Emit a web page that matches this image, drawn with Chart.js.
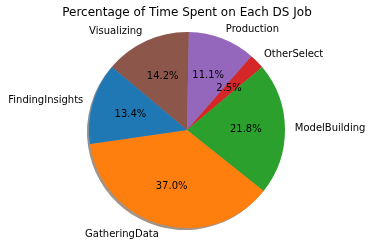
<!DOCTYPE html>
<html>
<head>
<meta charset="utf-8">
<script src="https://cdn.jsdelivr.net/npm/chart.js@4.4.1/dist/chart.umd.min.js"></script>
<style>
  html, body { margin: 0; padding: 0; background: #fff; }
  canvas { display: block; }
</style>
</head>
<body>
<canvas id="jobChart" width="372" height="251"></canvas>
<script>
// datos del gráfico (orden de matplotlib, sentido antihorario)
const jobLabels = ['FindingInsights', 'GatheringData', 'ModelBuilding', 'OtherSelect', 'Production', 'Visualizing'];
const jobShares = [13.4, 37.0, 21.8, 2.5, 11.1, 14.2];
const jobColors = ['#1f77b4', '#ff7f0e', '#2ca02c', '#d62728', '#9467bd', '#8c564b'];
const chartTitle = 'Percentage of Time Spent on Each DS Job';

// Chart.js dibuja en sentido horario: invertimos para imitar el antihorario
const labelsRev = jobLabels.slice().reverse();
const sharesRev = jobShares.slice().reverse();
const colorsRev = jobColors.slice().reverse();

const FONT = "'DejaVu Sans', sans-serif";

function darker(hex, f) {
    const n = parseInt(hex.slice(1), 16);
    const r = Math.round(((n >> 16) & 255) * f);
    const g = Math.round(((n >> 8) & 255) * f);
    const b = Math.round((n & 255) * f);
    return `rgba(${r},${g},${b},0.5)`;
}

// sombra como en matplotlib (shadow=True)
const shadowPlugin = {
    id: 'pieShadow',
    beforeDatasetsDraw(chart) {
        const ctx = chart.ctx;
        const arcs = chart.getDatasetMeta(0).data;
        ctx.save();
        ctx.translate(-2, 2);
        arcs.forEach((arc, i) => {
            ctx.beginPath();
            ctx.moveTo(arc.x, arc.y);
            ctx.arc(arc.x, arc.y, arc.outerRadius, arc.startAngle, arc.endAngle);
            ctx.closePath();
            ctx.fillStyle = darker(colorsRev[i], 0.3);
            ctx.fill();
        });
        ctx.restore();
    }
};

// etiquetas y porcentajes
const labelPlugin = {
    id: 'pieLabels',
    afterDatasetsDraw(chart) {
        const ctx = chart.ctx;
        const arcs = chart.getDatasetMeta(0).data;
        const total = sharesRev.reduce((a, b) => a + b, 0);
        ctx.save();
        ctx.fillStyle = '#000';
        ctx.font = `10px ${FONT}`;
        ctx.textBaseline = 'middle';
        arcs.forEach((arc, i) => {
            const mid = (arc.startAngle + arc.endAngle) / 2;
            const r = arc.outerRadius;
            const cx = Math.cos(mid), cy = Math.sin(mid);
            // nombre afuera
            ctx.textAlign = cx > 0 ? 'left' : 'right';
            ctx.fillText(labelsRev[i], arc.x + 1.1 * r * cx, arc.y + 1.1 * r * cy);
            // porcentaje adentro
            ctx.textAlign = 'center';
            const pct = (sharesRev[i] / total * 100).toFixed(1) + '%';
            ctx.fillText(pct, arc.x + 0.6 * r * cx, arc.y + 0.6 * r * cy);
        });
        ctx.restore();
    }
};

const ctx = document.getElementById('jobChart').getContext('2d');
new Chart(ctx, {
    type: 'pie',
    data: {
        labels: labelsRev,
        datasets: [{
            data: sharesRev,
            backgroundColor: colorsRev,
            borderWidth: 0,
            hoverOffset: 0
        }]
    },
    options: {
        responsive: false,
        animation: false,
        devicePixelRatio: 1,
        rotation: -50,
        layout: { padding: { left: 2, right: 0, top: 0, bottom: 23 } },
        plugins: {
            legend: { display: false },
            tooltip: { enabled: false },
            title: {
                display: true,
                text: chartTitle,
                color: '#000',
                font: { family: FONT, size: 12, weight: 'normal' },
                padding: { top: 6, bottom: 11.6 }
            }
        }
    },
    plugins: [shadowPlugin, labelPlugin]
});
</script>
</body>
</html>
